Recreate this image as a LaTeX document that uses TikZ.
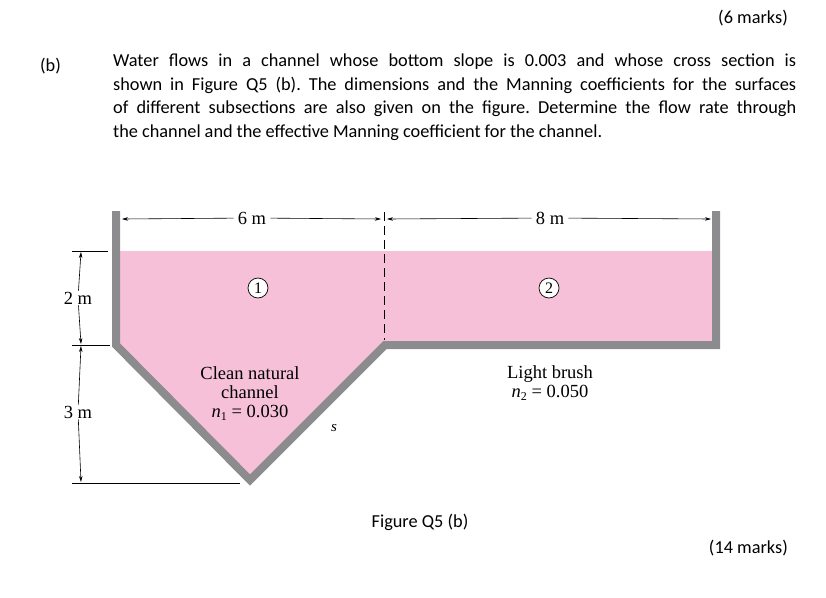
\documentclass[tikz,border=0pt]{standalone}
\usepackage{fontspec}
\setmainfont{Carlito}
\newfontfamily\figfont{Liberation Serif}
\usetikzlibrary{arrows.meta}
\definecolor{water}{HTML}{F6C0D9}
\definecolor{wall}{HTML}{8C8C8E}
\tikzset{
 txt/.style={font=\fontsize{18.3}{23.5}\selectfont, inner sep=0pt},
 fig/.style={font=\figfont\fontsize{18.5}{21}\selectfont, inner sep=1pt, align=center},
 dim/.style={line width=0.6pt, -{Stealth[length=6pt,width=3.5pt]}},
 tick/.style={line width=0.6pt},
 num/.style={circle, draw, fill=white, line width=0.7pt, inner sep=1pt, minimum size=20pt, font=\figfont\fontsize{16}{16}\selectfont}
}
\newcommand{\subn}[1]{{\itshape n}\raisebox{-3pt}{\fontsize{12}{12}\selectfont #1}}
\begin{document}
\frenchspacing
\begin{tikzpicture}[x=1pt,y=-1pt]
\useasboundingbox (0,0) rectangle (826,597);
\node[txt, anchor=east] (m6) at (788,18) {(6 marks)};
\node[txt, anchor=west] (b) at (40,66) {(b)};
\node[txt, anchor=north west, text width=683pt, align=justify] (para) at (113,54) {\spaceskip=0.22em plus 0.3em minus 0.1em Water flows in a channel whose bottom slope is 0.003 and whose cross section is\linebreak shown in Figure Q5 (b). The dimensions and the Manning coefficients for the surfaces\linebreak of different subsections are also given on the figure. Determine the flow rate through\linebreak the channel and the effective Manning coefficient for the channel.};
% water
\fill[water] (116,251) -- (116,345) -- (250,480) -- (385,345) -- (716,345) -- (716,251) -- cycle;
\draw[wall, line width=8pt, line join=miter] (116,211) -- (116,345) -- (250,480) -- (385,345) -- (716,345) -- (716,211);
\draw[line width=0.6pt, dash pattern=on 9pt off 5pt] (384,212) -- (384,340);
% top dims
\coordinate (l1) at (122,219); \coordinate (r1) at (381,219);
\coordinate (l2) at (387,219); \coordinate (r2) at (711,219);
\node[fig, fill=white, inner xsep=4pt] (d6) at (252,218) {6 m};
\node[fig, fill=white, inner xsep=4pt] (d8) at (550,218) {8 m};
\draw[dim] (d6) -- (l1); \draw[dim] (d6) -- (r1);
\draw[dim] (d8) -- (l2); \draw[dim] (d8) -- (r2);
% left dims
\draw[tick] (72,251) -- (108,251);
\draw[tick] (72,345) -- (110,345);
\draw[tick] (72,483) -- (240,483);
\coordinate (t1) at (81,252); \coordinate (t2) at (81,344);
\coordinate (t3) at (81,346); \coordinate (t4) at (81,482);
\node[fig, fill=white] (h2) at (78,298) {2 m};
\node[fig, fill=white] (h3) at (78,412) {3 m};
\draw[dim] (h2) -- (t1); \draw[dim] (h2) -- (t2);
\draw[dim] (h3) -- (t3); \draw[dim] (h3) -- (t4);
% labels
\node[num] (c1) at (258,288) {1};
\node[num] (c2) at (549,288) {2};
\node[fig] (lab1) at (250,394) {Clean natural\\[-2pt]channel\\[-2pt]\subn{1} = 0.030};
\node[fig] (lab2) at (550,383) {Light brush\\[-2pt]\subn{2} = 0.050};
\node[fig, font=\figfont\itshape\fontsize{15}{15}\selectfont] (s) at (334,428) {s};
\node[txt] (cap) at (420,522) {Figure Q5 (b)};
\node[txt, anchor=east] (m14) at (788,548) {(14 marks)};
\end{tikzpicture}
\end{document}
